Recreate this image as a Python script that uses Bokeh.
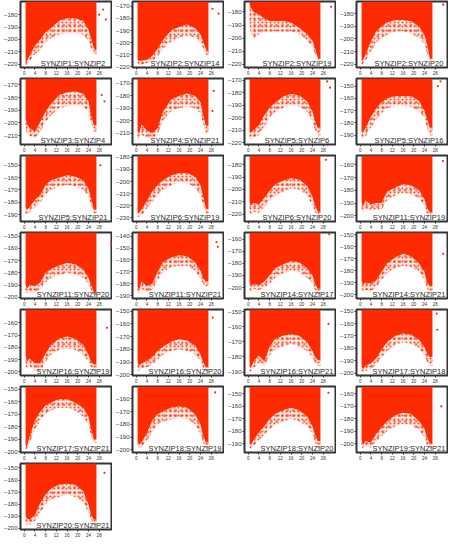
from bokeh.plotting import figure
from bokeh.layouts import gridplot
from bokeh.models import FixedTicker, Range1d, Label, ColumnDataSource
from bokeh.embed import file_html
from bokeh.resources import INLINE

RED = "#ff2b00"

# shared x knots (position along the sequence) and x tick labels
X_KNOTS = [0.5, 1, 2, 4, 6, 8, 10, 13, 16, 19, 22, 24, 25, 26, 27]
X_TICKS = [0, 4, 8, 12, 16, 20, 24, 28]

PAIRS = [
    "SYNZIP1:SYNZIP2", "SYNZIP2:SYNZIP14", "SYNZIP2:SYNZIP19", "SYNZIP2:SYNZIP20",
    "SYNZIP3:SYNZIP4", "SYNZIP4:SYNZIP21", "SYNZIP5:SYNZIP6", "SYNZIP5:SYNZIP16",
    "SYNZIP5:SYNZIP21", "SYNZIP6:SYNZIP19", "SYNZIP6:SYNZIP20", "SYNZIP11:SYNZIP19",
    "SYNZIP11:SYNZIP20", "SYNZIP11:SYNZIP21", "SYNZIP14:SYNZIP17", "SYNZIP14:SYNZIP21",
    "SYNZIP16:SYNZIP19", "SYNZIP16:SYNZIP20", "SYNZIP16:SYNZIP21", "SYNZIP17:SYNZIP18",
    "SYNZIP17:SYNZIP21", "SYNZIP18:SYNZIP19", "SYNZIP18:SYNZIP20", "SYNZIP19:SYNZIP21",
    "SYNZIP20:SYNZIP21",
]

Y_BOTTOM = [-222.5, -220.5, -222.5, -222.5, -217, -219, -221.5, -197.6,
            -195.6, -233, -226, -204.4, -201, -192.3, -209, -203.3,
            -203, -200.5, -192.3, -201.8, -200.5, -202, -197, -207, -201]
Y_TOP = [-169.5, -166, -172, -170.5, -165, -166, -168.7, -143.7,
         -142, -178.5, -172.5, -152.7, -147, -137, -154.5, -148.2,
         -149, -148.7, -148.5, -148.7, -148, -150.4, -144, -154, -146.3]

Y_TICKS = [
    [-180, -190, -200, -210, -220], [-170, -180, -190, -200, -210, -220],
    [-180, -190, -200, -210, -220], [-180, -190, -200, -210, -220],
    [-170, -180, -190, -200, -210], [-170, -180, -190, -200, -210],
    [-170, -180, -190, -200, -210, -220], [-150, -160, -170, -180, -190],
    [-150, -160, -170, -180, -190], [-180, -190, -200, -210, -220, -230],
    [-180, -190, -200, -210, -220], [-160, -170, -180, -190, -200],
    [-150, -160, -170, -180, -190, -200], [-140, -150, -160, -170, -180, -190],
    [-160, -170, -180, -190, -200], [-150, -160, -170, -180, -190, -200],
    [-160, -170, -180, -190, -200], [-150, -160, -170, -180, -190, -200],
    [-150, -160, -170, -180, -190], [-150, -160, -170, -180, -190, -200],
    [-150, -160, -170, -180, -190, -200], [-160, -170, -180, -190, -200],
    [-150, -160, -170, -180, -190], [-160, -170, -180, -190, -200],
    [-150, -160, -170, -180, -190, -200],
]

# lower edge of the dense point cloud, per panel, at X_KNOTS
DENSE_LOWER = [
    [-220, -217, -213, -205, -200, -194, -191, -185, -183, -183, -185, -192, -199, -207, -209],
    [-214, -215, -215, -214, -211, -205, -198, -190, -187, -185, -188, -193, -199, -205, -208],
    [-174, -177, -180, -182, -185, -187, -187, -187, -188, -192, -197, -202, -208, -215, -216],
    [-217, -217, -212, -202, -194, -190, -187, -185, -185, -186, -190, -197, -204, -215, -216],
    [-196, -201, -204, -207, -199, -191, -185, -178, -176, -175, -177, -183, -194, -202, -202],
    [-208, -211, -203, -208, -210, -206, -193, -183, -180, -178, -180, -185, -195, -204, -204],
    [-211, -212, -210, -206, -198, -192, -188, -183, -181, -182, -187, -195, -203, -208, -208],
    [-187, -188, -184, -175, -168, -163, -160, -158, -158, -158, -162, -170, -177, -184, -184],
    [-184, -186, -184, -178, -174, -166, -162, -160, -158, -159, -162, -169, -177, -186, -186],
    [-225, -226, -223, -216, -208, -203, -199, -195, -193, -193, -196, -203, -212, -222, -223],
    [-211, -213, -211, -212, -207, -201, -196, -193, -191, -192, -197, -206, -213, -218, -218],
    [-189, -193, -188, -191, -190, -190, -181, -178, -175, -176, -180, -187, -194, -197, -197],
    [-190, -193, -190, -191, -188, -180, -177, -174, -172, -173, -177, -184, -190, -196, -196],
    [-182, -186, -178, -182, -180, -170, -162, -158, -156, -157, -162, -169, -175, -178, -178],
    [-195, -199, -197, -198, -195, -190, -184, -181, -178, -179, -184, -190, -197, -201, -201],
    [-188, -192, -190, -191, -188, -181, -174, -169, -166, -168, -174, -181, -190, -193, -193],
    [-186, -192, -189, -193, -193, -185, -178, -173, -171, -173, -178, -186, -192, -194, -194],
    [-190, -193, -191, -189, -186, -181, -178, -174, -172, -173, -177, -184, -190, -194, -194],
    [-186, -187, -183, -179, -183, -173, -168, -166, -165, -166, -170, -176, -180, -182, -182],
    [-194, -197, -194, -192, -188, -181, -175, -170, -168, -169, -173, -179, -184, -187, -187],
    [-195, -196, -188, -175, -168, -163, -161, -158, -158, -161, -165, -172, -182, -190, -190],
    [-193, -196, -194, -187, -177, -172, -170, -167, -166, -167, -172, -180, -189, -194, -194],
    [-189, -191, -187, -181, -176, -170, -166, -163, -161, -163, -168, -176, -183, -188, -188],
    [-197, -201, -198, -199, -192, -187, -182, -177, -175, -176, -182, -188, -195, -200, -200],
    [-190, -192, -193, -189, -179, -172, -167, -164, -163, -164, -169, -180, -189, -193, -193],
]

# lower edge of the sparse, scattered points, per panel, at X_KNOTS
SPARSE_LOWER = [
    [-221, -220, -217, -212, -208, -202, -199, -196, -195, -195, -196, -201, -207, -211, -212],
    [-217, -218, -218, -217, -215, -211, -205, -199, -196, -194, -196, -200, -204, -210, -211],
    [-187, -197, -200, -197, -195, -195, -195, -195, -195, -197, -202, -207, -212, -217, -218],
    [-220, -220, -217, -210, -203, -199, -197, -194, -194, -196, -199, -204, -211, -217, -218],
    [-204, -208, -210, -212, -207, -199, -194, -188, -187, -186, -187, -191, -199, -207, -207],
    [-213, -215, -211, -214, -214, -211, -200, -192, -190, -188, -190, -194, -202, -210, -210],
    [-216, -217, -216, -214, -207, -200, -196, -192, -190, -191, -195, -203, -210, -214, -214],
    [-192, -193, -191, -184, -177, -172, -168, -166, -166, -167, -170, -176, -184, -190, -190],
    [-189, -190, -188, -184, -180, -174, -170, -167, -166, -167, -170, -175, -182, -189, -189],
    [-229, -229, -228, -222, -217, -211, -207, -203, -200, -201, -205, -211, -219, -226, -228],
    [-218, -221, -218, -219, -214, -209, -205, -202, -199, -200, -205, -213, -218, -222, -222],
    [-195, -197, -194, -196, -195, -195, -188, -184, -182, -183, -186, -192, -198, -200, -200],
    [-196, -197, -196, -196, -193, -188, -184, -182, -180, -181, -184, -189, -194, -198, -198],
    [-187, -188, -184, -187, -185, -177, -170, -166, -165, -165, -169, -176, -180, -182, -182],
    [-201, -204, -201, -202, -200, -197, -192, -188, -186, -187, -192, -196, -202, -205, -205],
    [-195, -198, -196, -197, -194, -188, -182, -178, -176, -177, -181, -188, -195, -198, -198],
    [-195, -197, -195, -199, -199, -192, -186, -182, -181, -182, -186, -192, -196, -199, -199],
    [-195, -197, -195, -194, -192, -188, -184, -181, -180, -181, -184, -189, -194, -197, -197],
    [-189, -190, -187, -184, -186, -179, -175, -173, -171, -173, -176, -180, -184, -186, -186],
    [-198, -199, -198, -197, -193, -187, -182, -177, -175, -176, -180, -186, -191, -194, -194],
    [-198, -198, -193, -182, -175, -170, -167, -165, -165, -167, -172, -178, -187, -193, -193],
    [-197, -198, -198, -193, -186, -180, -178, -176, -175, -176, -180, -188, -194, -198, -198],
    [-193, -194, -192, -187, -183, -178, -175, -172, -170, -172, -176, -182, -189, -193, -193],
    [-202, -204, -202, -203, -198, -194, -190, -186, -184, -185, -189, -195, -201, -203, -203],
    [-196, -197, -197, -194, -187, -180, -176, -174, -172, -174, -178, -187, -193, -197, -197],
]

# a few isolated points beyond the main cloud, per panel
OUT_X = [
    [28, 29.5, 30.5], [28.5, 30.8], [31], [31], [29, 30], [28.5, 29], [29.5, 30.6], [29, 30],
    [28.5], [], [29], [30.9], [32.5], [30, 30.5], [30.3], [31],
    [30.9], [28.6], [30], [28.6, 28.8], [], [29.5], [30], [30.3], [30],
]
OUT_Y = [
    [-180, -176, -184], [-172, -176], [-176], [-173], [-178, -183], [-192, -176], [-171, -176], [-150, -146],
    [-150], [], [-176], [-157], [-157], [-145, -149], [-156], [-166],
    [-164], [-155], [-158], [-152, -165], [], [-155], [-149], [-170], [-154],
]

X_LO, X_HI = -1.4, 33.0

figs = []
for i, name in enumerate(PAIRS):
    p = figure(width=112, height=77,
               x_range=Range1d(X_LO, X_HI), y_range=Range1d(Y_BOTTOM[i], Y_TOP[i]),
               output_backend="svg", toolbar_location=None,
               min_border_left=16, min_border_right=0, min_border_top=1, min_border_bottom=7)
    p.xgrid.visible = False
    p.ygrid.visible = False
    p.outline_line_color = "#333333"
    p.outline_line_width = 2
    p.outline_line_alpha = 1.0

    n = len(X_KNOTS)
    src = ColumnDataSource(dict(x=X_KNOTS, dense=DENSE_LOWER[i], sparse=SPARSE_LOWER[i],
                                top=[Y_TOP[i]] * n))
    # scattered band: two dot screens of different pitch give an irregular speckle
    p.varea(x="x", y1="sparse", y2="dense", source=src, fill_color=RED, fill_alpha=0.1,
            hatch_pattern=".", hatch_color=RED, hatch_scale=4, hatch_weight=1.0, hatch_alpha=0.85)
    p.varea(x="x", y1="sparse", y2="dense", source=src, fill_alpha=0,
            hatch_pattern=".", hatch_color=RED, hatch_scale=5.5, hatch_weight=0.9, hatch_alpha=0.7)
    p.varea(x="x", y1="dense", y2="top", source=src, fill_color=RED, fill_alpha=1.0)
    if OUT_X[i]:
        p.scatter(OUT_X[i], OUT_Y[i], size=2.2, color=RED, line_width=0)

    for ax, fs, ticks in ((p.xaxis, "4.5px", X_TICKS), (p.yaxis, "6px", Y_TICKS[i])):
        ax.ticker = FixedTicker(ticks=ticks)
        ax.axis_line_color = None
        ax.major_tick_in = 0
        ax.major_tick_out = 2
        ax.major_tick_line_color = "#333333"
        ax.minor_tick_line_color = None
        ax.major_label_text_font_size = fs
        ax.major_label_text_font = "Liberation Sans"
        ax.major_label_text_color = "#333333"
        ax.major_label_standoff = 1

    p.add_layout(Label(x=X_LO + 0.57 * (X_HI - X_LO), y=Y_BOTTOM[i], text=name,
                       text_align="center", text_baseline="bottom",
                       text_font_size="7.5px", text_font="Liberation Sans",
                       text_color="#2a2a2a"))
    figs.append(p)

grid = gridplot(figs, ncols=4, toolbar_location=None)

open("out.html", "w").write(file_html(grid, INLINE))
